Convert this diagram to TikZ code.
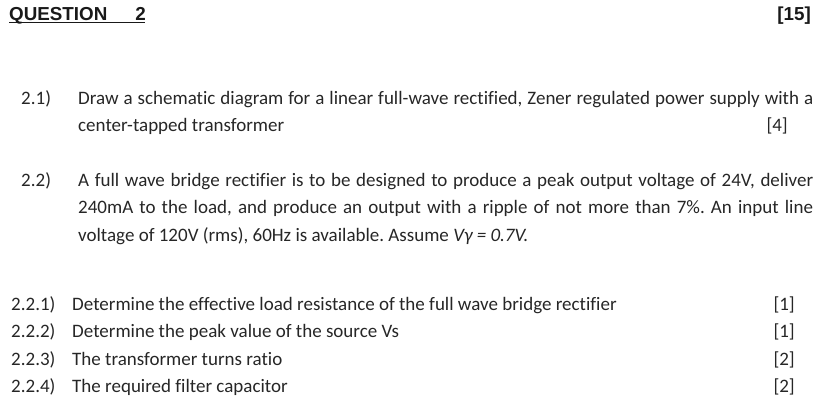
\documentclass[tikz,border=0pt]{standalone}
\usepackage{fontspec}
\setmainfont{Carlito}[Ligatures=NoCommon]
\newfontfamily\headfont{Liberation Sans}
\frenchspacing
\tikzset{
 textline/.style={anchor=base west,inner sep=0pt,font=\fontsize{19pt}{22pt}\selectfont,text=black!85},
 marks/.style={anchor=base east,inner sep=0pt,font=\fontsize{19pt}{22pt}\selectfont,text=black!85},
 headline/.style={anchor=base west,inner sep=0pt,font=\headfont\bfseries\fontsize{18.8pt}{22pt}\selectfont,text=black!90}
}
\newcommand{\fullline}[1]{\hbox to 735pt{#1}}
\begin{document}
\begin{tikzpicture}[x=1pt,y=-1pt]
\useasboundingbox (0,0) rectangle (822,415);
\node[headline] (q) at (9,20) {\rlap{\rule[-2.8pt]{136pt}{1.2pt}}QUESTION\hspace{28pt}2};
\node[headline,anchor=base east] (t) at (811,20) {[15]};
\node[textline] (a1) at (21,104) {2.1)};
\node[textline] (a2) at (78,104) {\fullline{Draw a schematic diagram for a linear full-wave rectified, Zener regulated power supply with a}};
\node[textline] (a3) at (78,131) {center-tapped transformer};
\node[marks] (a4) at (788,131) {[4]};
\node[textline] (b1) at (21,186) {2.2)};
\node[textline] (b2) at (78,186) {\fullline{A full wave bridge rectifier is to be designed to produce a peak output voltage of 24V, deliver}};
\node[textline] (b3) at (78,213) {\fullline{240mA to the load, and produce an output with a ripple of not more than 7\%. An input line}};
\node[textline] (b4) at (78,241) {voltage of 120V (rms), 60Hz is available. Assume \textit{Vγ = 0.7V.}};
\node[textline] (c1) at (11,310) {2.2.1)};
\node[textline] (c1t) at (72,310) {Determine the effective load resistance of the full wave bridge rectifier};
\node[marks] (c1m) at (795,310) {[1]};
\node[textline] (c2) at (11,337) {2.2.2)};
\node[textline] (c2t) at (72,337) {Determine the peak value of the source Vs};
\node[marks] (c2m) at (795,337) {[1]};
\node[textline] (c3) at (11,365) {2.2.3)};
\node[textline] (c3t) at (72,365) {The transformer turns ratio};
\node[marks] (c3m) at (795,365) {[2]};
\node[textline] (c4) at (11,392) {2.2.4)};
\node[textline] (c4t) at (72,392) {The required filter capacitor};
\node[marks] (c4m) at (795,392) {[2]};
\end{tikzpicture}
\end{document}
